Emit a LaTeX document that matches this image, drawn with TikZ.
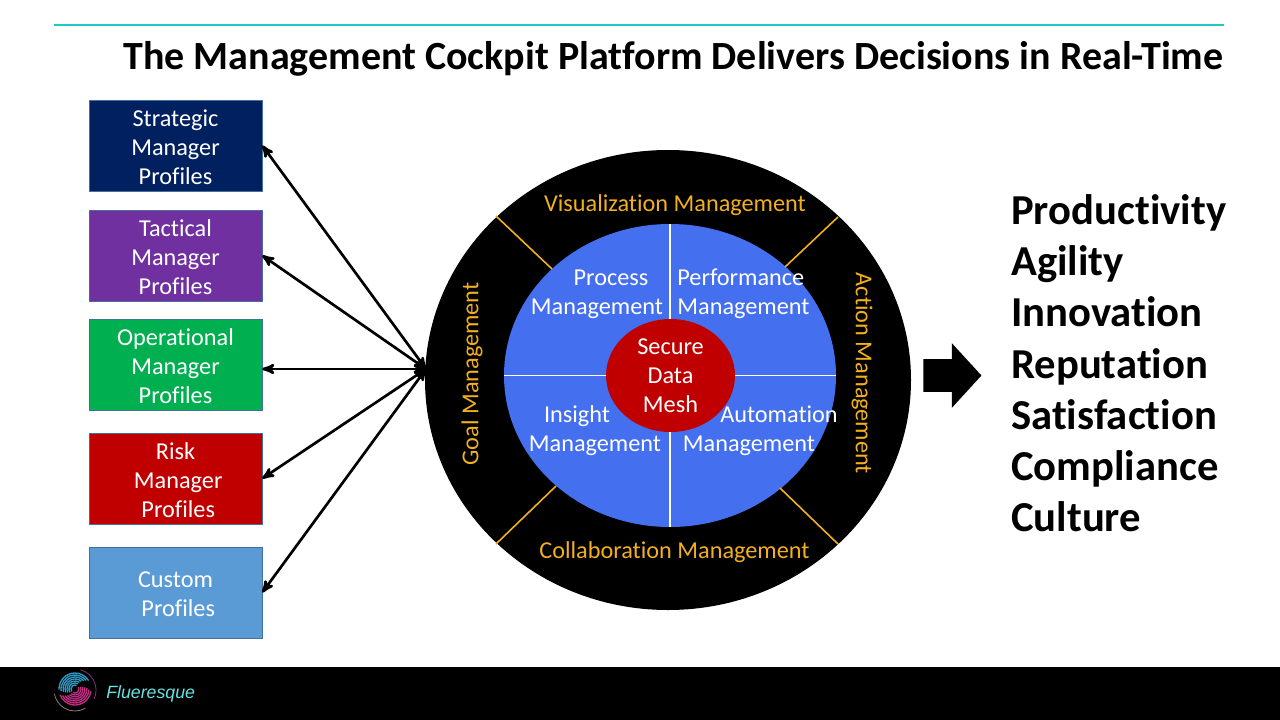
\documentclass[tikz,border=0pt]{standalone}
\usepackage{fontspec}
\setmainfont{Carlito}[Ligatures=CommonOff]
\newfontfamily\logofont{Liberation Sans}
\usetikzlibrary{arrows,shapes.geometric,shapes.arrows}
\definecolor{gold}{HTML}{F2B01E}
\definecolor{ringblue}{HTML}{4470F0}
\definecolor{logocyan}{HTML}{66E3E3}
\definecolor{rule}{HTML}{1FC8C8}
\definecolor{edge}{HTML}{41719C}
\newcommand{\lift}{\rule{0pt}{14.4pt}}
\tikzstyle{block} = [draw=edge, rectangle, minimum height=68.25pt, minimum width=129.75pt, inner sep=0pt, text=white, align=center, font=\fontsize{18.2}{21.75}\selectfont]
\tikzstyle{inlabel} = [text=white, inner sep=0pt, font=\fontsize{18.2}{21.75}\selectfont]
\tikzstyle{ringlabel} = [text=gold, inner sep=0pt, font=\fontsize{18.2}{21.75}\selectfont]
\tikzstyle{result} = [inner sep=0pt, anchor=base west, font=\fontsize{32}{36}\selectfont\bfseries]
\tikzstyle{to} = [<->,>=stealth',line width=2pt]
\tikzstyle{sep} = [gold,line width=1.2pt]
\tikzstyle{div} = [white,line width=1.1pt]
\begin{document}
\begin{tikzpicture}[x=0.75pt,y=-0.75pt]
		\useasboundingbox (0,0) rectangle (1280,720);
		\fill[white] (0,0) rectangle (1280,720);
		\fill[black] (0,667) rectangle (1280,720);
		\draw[color=rule,line width=1.3pt] (54,25) -- (1224,25);
		\node (title) [inner sep=0pt,anchor=base,font=\fontsize{30}{36}\selectfont\bfseries] at (673.5,69.5) {The Management Cockpit Platform Delivers Decisions in Real-Time};
		% profile boxes
		\node (strategic) [block,fill={rgb,255:red,0;green,32;blue,96}] at (175.5,145.5) {\lift Strategic\\Manager\\Profiles};
		\node (tactical) [block,fill={rgb,255:red,112;green,48;blue,160}] at (175.5,255.5) {\lift Tactical\\Manager\\Profiles};
		\node (operational) [block,fill={rgb,255:red,0;green,176;blue,80}] at (175.5,364.5) {\lift Operational\\Manager\\Profiles};
		\node (risk) [block,fill={rgb,255:red,192;green,0;blue,0}] at (175.5,478.5) {\lift Risk\\\ Manager\\\ Profiles};
		\node (custom) [block,fill={rgb,255:red,91;green,155;blue,213}] at (175.5,592.5) {\lift Custom\\\ Profiles};
		% rings
		\node (outer) [ellipse,fill=black,minimum width=364.5pt,minimum height=345pt,inner sep=0pt] at (668,380) {};
		\coordinate (hub) at (426,369);
		\node (inner) [ellipse,fill=ringblue,minimum width=249pt,minimum height=227.25pt,inner sep=0pt] at (670,375.5) {};
		\coordinate (s1a) at (496,216); \coordinate (s1b) at (552,269);
		\coordinate (s2a) at (838,217); \coordinate (s2b) at (785,267);
		\coordinate (s3a) at (496,544); \coordinate (s3b) at (556,486);
		\coordinate (s4a) at (838,544); \coordinate (s4b) at (780,488);
		\draw[sep] (s1a) -- (s1b);
		\draw[sep] (s2a) -- (s2b);
		\draw[sep] (s3a) -- (s3b);
		\draw[sep] (s4a) -- (s4b);
		\draw[div] (inner.north) -- (inner.south);
		\draw[div] (inner.west) -- (inner.east);
		\node (mesh) [ellipse,fill={rgb,255:red,192;green,0;blue,0},minimum width=96.75pt,minimum height=84.75pt,inner sep=0pt,text=white,align=center,font=\fontsize{18.2}{21.75}\selectfont] at (670.5,375.5) {Secure\\Data\\Mesh};
		% labels
		\node (visual) [ringlabel] at (675,205) {Visualization Management};
		\node (collab) [ringlabel] at (674.5,552) {Collaboration Management};
		\node (goal) [ringlabel,rotate=90] at (472,374) {Goal Management};
		\node (action) [ringlabel,rotate=-90] at (862,373.5) {Action Management};
		\node (process) [inlabel,align=center] at (597,294) {\hspace*{21pt}Process\\Management};
		\node (perform) [inlabel,align=left] at (743.5,294) {Performance\\Management};
		\node (insight) [inlabel,align=center] at (595,431) {Insight\hspace*{27pt}\\Management};
		\node (auto) [inlabel,align=center] at (749,431) {\hspace*{45pt}Automation\\Management};
		% arrows
		\draw[to] (strategic.east) -- (hub);
		\draw[to] (tactical.east) -- (hub);
		\draw[to] (operational.east |- hub) -- (hub);
		\draw[to] (risk.east) -- (hub);
		\draw[to] (custom.east) -- (hub);
		% result
		\node (big) [single arrow,fill=black,minimum height=43.5pt,text height=24pt,text depth=0pt,text width=0pt,single arrow head extend=12pt,single arrow tip angle=95,inner sep=0pt] at (945,375.5) {};
		\node (r1) [result] at (1011,224) {Productivity};
		\node (r2) [result] at (1011,275) {Agility};
		\node (r3) [result] at (1011,326) {Innovation};
		\node (r4) [result] at (1011,378) {Reputation};
		\node (r5) [result] at (1011,429) {Satisfaction};
		\node (r6) [result] at (1011,480) {Compliance};
		\node (r7) [result] at (1011,531) {Culture};
		% logo
		\foreach \r in {4,6,...,16}{
			\draw[color=cyan!55!teal,line width=1pt] (75,689) ++(130+\r*3:\r) arc[start angle=130+\r*3,delta angle=150,radius=\r];
			\draw[color=magenta!55!violet,line width=1pt] (75,689) ++(-40+\r*3:\r) arc[start angle=-40+\r*3,delta angle=150,radius=\r];
		}
		\draw[color=gray,line width=.6pt] (75,690) ++(60:21) arc[start angle=60,delta angle=110,radius=21];
		\draw[color=violet!60!gray,line width=.6pt] (75,690) ++(-75:21) arc[start angle=-75,delta angle=100,radius=21];
		\node (logo) [inner sep=0pt,anchor=west,text=logocyan,font=\logofont\fontsize{13.3}{16}\selectfont\itshape] at (106,694) {Flueresque};
\end{tikzpicture}
\end{document}
